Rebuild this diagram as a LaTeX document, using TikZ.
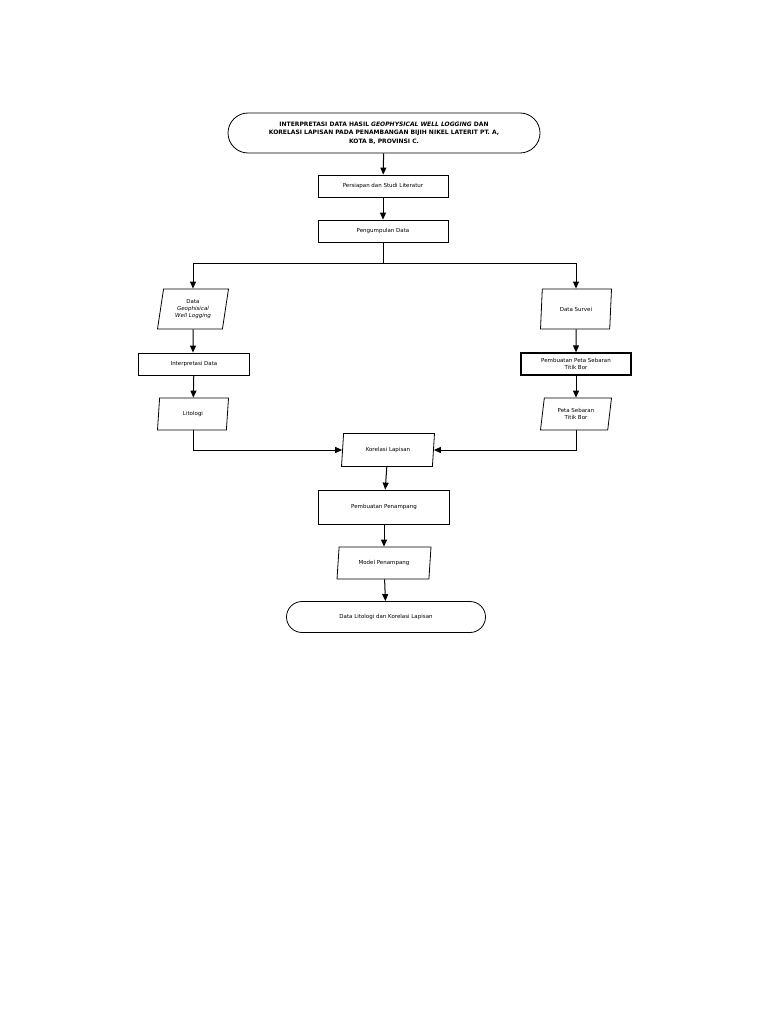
\documentclass[tikz,border=0pt]{standalone}
\usepackage{fontspec}
\setmainfont{DejaVu Sans}
\usetikzlibrary{shapes.geometric,shapes.misc,arrows.meta}
\begin{document}
\begin{tikzpicture}[x=1pt,y=-1pt,
  every node/.style={font=\fontsize{5.5}{7}\selectfont,align=center},
  pbox/.style={draw,line width=0.8pt,rectangle,minimum height=22pt,inner sep=1pt},
  pdata/.style={draw,line width=0.8pt,trapezium,trapezium left angle=74,trapezium right angle=106,trapezium stretches body,inner sep=1pt},
  pterm/.style={draw,line width=0.8pt,rounded rectangle,inner sep=1pt},
  arr/.style={line width=1pt,-{Triangle[length=7pt,width=6pt]}},
  ln/.style={line width=1pt}]
\useasboundingbox (0,0) rectangle (768,1024);
\node[pterm,minimum width=314pt,minimum height=40pt,font=\fontsize{6}{8.5}\selectfont\bfseries] (t) at (384,133) {INTERPRETASI DATA HASIL \textit{GEOPHYSICAL WELL LOGGING} DAN\\KORELASI LAPISAN PADA PENAMBANGAN BIJIH NIKEL LATERIT PT. A,\\KOTA B, PROVINSI C.};
\node[pbox,minimum width=130pt] (p1) at (383,186) {Persiapan dan Studi Literatur};
\node[pbox,minimum width=130pt] (p2) at (383,231) {Pengumpulan Data};
\node[pdata,minimum width=71pt,minimum height=40pt] (d1) at (193,309) {Data\\\textit{Geophisical}\\\textit{Well Logging}};
\node[pbox,minimum width=111pt] (i1) at (194,364) {Interpretasi Data};
\node[pdata,minimum width=71pt,minimum height=32pt] (l1) at (193,414) {Litologi};
\node[pdata,minimum width=71pt,minimum height=40pt] (d2) at (576,309) {Data Survei};
\node[pbox,minimum width=110pt,line width=1.3pt] (b2) at (576,364) {Pembuatan Peta Sebaran\\Titik Bor};
\node[pdata,minimum width=71pt,minimum height=32pt] (s2) at (576,414) {Peta Sebaran\\Titik Bor};
\node[pdata,minimum width=93pt,minimum height=33pt] (k) at (388,450) {Korelasi Lapisan};
\node[pbox,minimum width=131pt,minimum height=34pt] (pp) at (384,507) {Pembuatan Penampang};
\node[pdata,minimum width=94pt,minimum height=32pt] (mp) at (384,563) {Model Penampang};
\node[pterm,minimum width=201pt,minimum height=31pt] (e) at (386,617) {Data Litologi dan Korelasi Lapisan};
\coordinate (br) at (383,263);
\draw[arr] (t) -- (p1);
\draw[arr] (p1) -- (p2);
\draw[ln] (p2) -- (br);
\draw[arr] (br) -| (d1);
\draw[arr] (br) -| (d2);
\draw[arr] (d1) -- (d1 |- i1.north);
\draw[arr] (i1) -- (l1);
\draw[arr] (d2) -- (b2);
\draw[arr] (b2) -- (s2);
\draw[arr] (l1) |- (k);
\draw[arr] (s2) |- (k);
\draw[arr] (k) -- (pp);
\draw[arr] (pp) -- (mp);
\draw[arr] (mp) -- (e);
\end{tikzpicture}
\end{document}
